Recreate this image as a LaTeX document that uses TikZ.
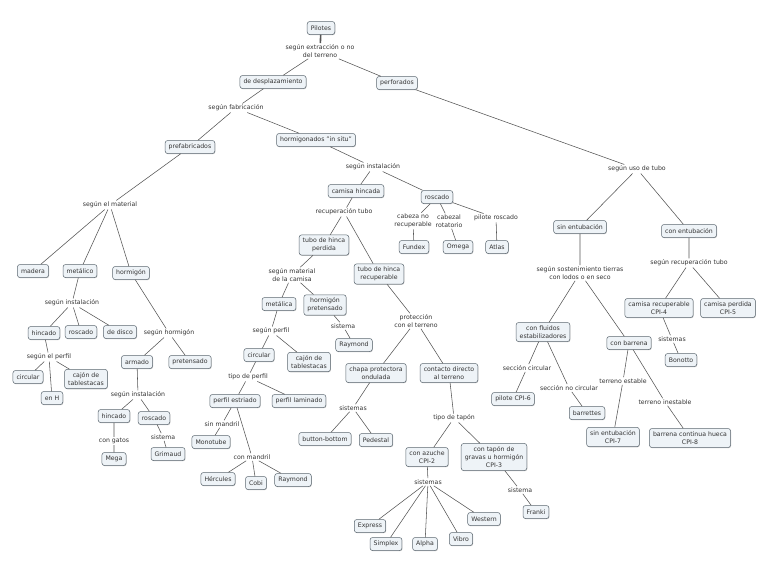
\documentclass[tikz,border=0pt]{standalone}
\usepackage{fontspec}
\setmainfont{DejaVu Sans}
\usepackage{xcolor}
\usepackage{tikz}
\usetikzlibrary{shadows}
\definecolor{boxedge}{HTML}{5B6770}
\definecolor{boxfill}{HTML}{EEF3F7}
\definecolor{inktext}{HTML}{333333}
\definecolor{linkline}{HTML}{555555}

\tikzset{
  concept/.style={draw=boxedge, fill=boxfill, rounded corners=2.5pt, line width=0.5pt,
                  align=center, inner xsep=3.6pt, inner ysep=3.2pt, minimum height=13pt,
                  text=inktext, font=\fontsize{6.2}{7.8}\selectfont,
                  drop shadow={shadow xshift=0.5pt, shadow yshift=-0.7pt, fill=black!45}},
  phrase/.style={align=center, inner sep=1.2pt, text=inktext, font=\fontsize{6.2}{7.8}\selectfont},
  link/.style={draw=linkline, line width=0.55pt}
}

\begin{document}
\begin{tikzpicture}[x=1pt, y=-1pt]
    \useasboundingbox[fill=white] (0,0) rectangle (768,563);

    \node[concept] (pilotes) at (321,28) {Pilotes};
    \node[phrase] (lext) at (320,51) {según extracción o no\\del terreno};
    \node[concept] (desplaz) at (273,82) {de desplazamiento};
    \node[concept] (perfor) at (397,83) {perforados};
    \node[phrase] (lfab) at (236,108) {según fabricación};
    \node[concept] (prefab) at (190,147) {prefabricados};
    \node[concept] (insitu) at (316,140) {hormigonados "in situ"};

    \node[phrase] (lmat) at (110,205) {según el material};
    \node[concept] (madera) at (33,271) {madera};
    \node[concept] (metalico) at (80,271) {metálico};
    \node[concept] (hormigon) at (131,273) {hormigón};
    \node[phrase] (linst1) at (72,303) {según instalación};
    \node[concept] (hinc1) at (44,333) {hincado};
    \node[concept] (rosc1) at (81,332) {roscado};
    \node[concept] (disco) at (120,332) {de disco};
    \node[phrase] (lperfil1) at (49,357) {según el perfil};
    \node[concept] (circ1) at (28,377) {circular};
    \node[concept] (cajon1) at (86,379) {cajón de\\tablestacas};
    \node[concept] (enh) at (52,398) {en H};
    \node[phrase] (lshorm) at (169,333) {según hormigón};
    \node[concept] (armado) at (137,362) {armado};
    \node[concept] (pretens) at (190,362) {pretensado};
    \node[phrase] (linst2) at (138,395) {según instalación};
    \node[concept] (hinc2) at (114,416) {hincado};
    \node[concept] (rosc2) at (154,418) {roscado};
    \node[phrase] (lgatos) at (114,441) {con gatos};
    \node[phrase] (lsist1) at (163,437) {sistema};
    \node[concept] (mega) at (114,459) {Mega};
    \node[concept] (grimaud) at (168,454) {Grimaud};

    \node[phrase] (linst3) at (373,167) {según instalación};
    \node[concept] (camisa) at (356,191) {camisa hincada};
    \node[concept] (rosc3) at (437,197) {roscado};
    \node[phrase] (lrecup) at (344,212) {recuperación tubo};
    \node[phrase] (lcabeza) at (413,221) {cabeza no\\recuperable};
    \node[phrase] (lcabezal) at (449,221) {cabezal\\rotatorio};
    \node[phrase] (lpilrosc) at (496,218) {pilote roscado};
    \node[concept] (fundex) at (414,247) {Fundex};
    \node[concept] (omega) at (458,247) {Omega};
    \node[concept] (atlas) at (497,247) {Atlas};
    \node[concept] (perdida) at (324,245) {tubo de hinca\\perdida};
    \node[concept] (recuper) at (379,274) {tubo de hinca\\recuperable};
    \node[phrase] (lsmat) at (292,275) {según material\\de la camisa};
    \node[concept] (metalica) at (279,304) {metálica};
    \node[concept] (hpret) at (325,305) {hormigón\\pretensado};
    \node[phrase] (lsist2) at (343,326) {sistema};
    \node[concept] (raymond1) at (354,345) {Raymond};
    \node[phrase] (lsperfil) at (271,331) {según perfil};
    \node[concept] (circ2) at (259,355) {circular};
    \node[concept] (cajon2) at (309,362) {cajón de\\tablestacas};
    \node[phrase] (ltipo) at (248,377) {tipo de perfil};
    \node[concept] (estriado) at (235,401) {perfil estriado};
    \node[concept] (laminado) at (299,401) {perfil laminado};
    \node[phrase] (lsinm) at (222,424) {sin mandril};
    \node[concept] (monotube) at (211,442) {Monotube};
    \node[phrase] (lconm) at (252,457) {con mandril};
    \node[concept] (hercules) at (218,479) {Hércules};
    \node[concept] (cobi) at (256,483) {Cobi};
    \node[concept] (raymond2) at (293,480) {Raymond};

    \node[phrase] (lprot) at (416,321) {protección\\con el terreno};
    \node[concept] (chapa) at (376,373) {chapa protectora\\ondulada};
    \node[concept] (contacto) at (449,373) {contacto directo\\al terreno};
    \node[phrase] (lsist3) at (353,408) {sistemas};
    \node[concept] (button) at (325,439) {button-bottom};
    \node[concept] (pedestal) at (376,440) {Pedestal};
    \node[phrase] (ltapon) at (454,418) {tipo de tapón};
    \node[concept] (azuche) at (427,457) {con azuche\\CPI-2};
    \node[concept] (tapon) at (494,457) {con tapón de\\gravas u hormigón\\CPI-3};
    \node[phrase] (lsist4) at (428,482) {sistemas};
    \node[concept] (express) at (370,526) {Express};
    \node[concept] (simplex) at (386,544) {Simplex};
    \node[concept] (alpha) at (425,544) {Alpha};
    \node[concept] (vibro) at (461,539) {Vibro};
    \node[concept] (western) at (484,519) {Western};
    \node[phrase] (lsist5) at (520,490) {sistema};
    \node[concept] (franki) at (536,512) {Franki};

    \node[phrase] (luso) at (637,169) {según uso de tubo};
    \node[concept] (sinent) at (580,227) {sin entubación};
    \node[concept] (conent) at (689,231) {con entubación};
    \node[phrase] (lsost) at (580,273) {según sostenimiento tierras\\con lodos o en seco};
    \node[phrase] (lsrec) at (689,263) {según recuperación tubo};
    \node[concept] (cpi4) at (659,308) {camisa recuperable\\CPI-4};
    \node[concept] (cpi5) at (728,308) {camisa perdida\\CPI-5};
    \node[phrase] (lsist6) at (672,339) {sistemas};
    \node[concept] (bonotto) at (681,360) {Bonotto};
    \node[concept] (fluidos) at (543,332) {con fluidos\\estabilizadores};
    \node[concept] (barrena) at (629,343) {con barrena};
    \node[phrase] (lsecc) at (527,368) {sección circular};
    \node[phrase] (lsecnc) at (569,388) {sección no circular};
    \node[concept] (cpi6) at (513,399) {pilote CPI-6};
    \node[concept] (barrettes) at (587,413) {barrettes};
    \node[phrase] (lestab) at (623,381) {terreno estable};
    \node[phrase] (linest) at (665,402) {terreno inestable};
    \node[concept] (cpi7) at (613,437) {sin entubación\\CPI-7};
    \node[concept] (cpi8) at (690,438) {barrena continua hueca\\CPI-8};

    \draw[link, line width=1.6pt] (pilotes) -- (lext);
    \draw[link] (lext) -- (desplaz) (lext) -- (perfor);
    \draw[link] (desplaz) -- (lfab) (lfab) -- (prefab) (lfab) -- (insitu);
    \draw[link] (prefab) -- (lmat) (lmat) -- (madera) (lmat) -- (metalico) (lmat) -- (hormigon);
    \draw[link] (metalico) -- (linst1) (linst1) -- (hinc1) (linst1) -- (rosc1) (linst1) -- (disco);
    \draw[link] (hinc1) -- (lperfil1) (lperfil1) -- (circ1) (lperfil1) -- (enh) (lperfil1) -- (cajon1);
    \draw[link] (hormigon) -- (lshorm) (lshorm) -- (armado) (lshorm) -- (pretens);
    \draw[link] (armado) -- (linst2) (linst2) -- (hinc2) (linst2) -- (rosc2);
    \draw[link] (hinc2) -- (lgatos) -- (mega) (rosc2) -- (lsist1) -- (grimaud);
    \draw[link] (insitu) -- (linst3) (linst3) -- (camisa) (linst3) -- (rosc3);
    \draw[link] (rosc3) -- (lcabeza) -- (fundex) (rosc3) -- (lcabezal) -- (omega) (rosc3) -- (lpilrosc) -- (atlas);
    \draw[link] (camisa) -- (lrecup) (lrecup) -- (perdida) (lrecup) -- (recuper);
    \draw[link] (perdida) -- (lsmat) (lsmat) -- (metalica) (lsmat) -- (hpret);
    \draw[link] (hpret) -- (lsist2) -- (raymond1);
    \draw[link] (metalica) -- (lsperfil) (lsperfil) -- (circ2) (lsperfil) -- (cajon2);
    \draw[link] (circ2) -- (ltipo) (ltipo) -- (estriado) (ltipo) -- (laminado);
    \draw[link] (estriado) -- (lsinm) -- (monotube) (estriado) -- (lconm);
    \draw[link] (lconm) -- (hercules) (lconm) -- (cobi) (lconm) -- (raymond2);
    \draw[link] (recuper) -- (lprot) (lprot) -- (chapa) (lprot) -- (contacto);
    \draw[link] (chapa) -- (lsist3) (lsist3) -- (button) (lsist3) -- (pedestal);
    \draw[link] (contacto) -- (ltapon) (ltapon) -- (azuche) (ltapon) -- (tapon);
    \draw[link] (azuche) -- (lsist4) (lsist4) -- (express) (lsist4) -- (simplex) (lsist4) -- (alpha)
                (lsist4) -- (vibro) (lsist4) -- (western);
    \draw[link] (tapon) -- (lsist5) -- (franki);
    \draw[link] (perfor) -- (luso) (luso) -- (sinent) (luso) -- (conent);
    \draw[link] (sinent) -- (lsost) (lsost) -- (fluidos) (lsost) -- (barrena);
    \draw[link] (fluidos) -- (lsecc) -- (cpi6) (fluidos) -- (lsecnc) -- (barrettes);
    \draw[link] (barrena) -- (lestab) -- (cpi7) (barrena) -- (linest) -- (cpi8);
    \draw[link] (conent) -- (lsrec) (lsrec) -- (cpi4) (lsrec) -- (cpi5);
    \draw[link] (cpi4) -- (lsist6) -- (bonotto);
\end{tikzpicture}
\end{document}
